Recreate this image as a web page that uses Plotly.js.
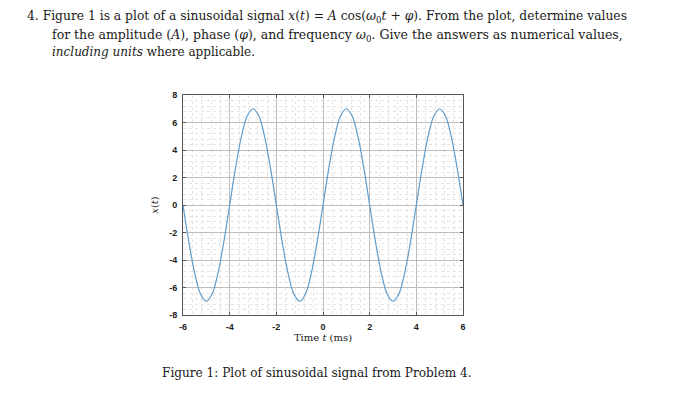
<!DOCTYPE html>
<html><head><meta charset="utf-8">
<script src="https://cdn.plot.ly/plotly-3.0.1.min.js"></script>
<style>html,body{margin:0;padding:0;background:#fff;}#plot{width:700px;height:395px;}</style>
</head><body><div id="plot"></div>
<script>
// Time samples (ms)
const timeMs = [-6,-5.75,-5.5,-5.25,-5,-4.75,-4.5,-4.25,-4,-3.75,-3.5,-3.25,-3,-2.75,-2.5,-2.25,
  -2,-1.75,-1.5,-1.25,-1,-0.75,-0.5,-0.25,0,0.25,0.5,0.75,1,1.25,1.5,1.75,
  2,2.25,2.5,2.75,3,3.25,3.5,3.75,4,4.25,4.5,4.75,5,5.25,5.5,5.75,6];
// Signal values x(t)
const signalX = [0,-2.68,-4.95,-6.47,-7,-6.47,-4.95,-2.68,0,2.68,4.95,6.47,7,6.47,4.95,2.68,
  0,-2.68,-4.95,-6.47,-7,-6.47,-4.95,-2.68,0,2.68,4.95,6.47,7,6.47,4.95,2.68,
  0,-2.68,-4.95,-6.47,-7,-6.47,-4.95,-2.68,0,2.68,4.95,6.47,7,6.47,4.95,2.68,0];
const xTicks = [-6,-4,-2,0,2,4,6];
const yTicks = [-8,-6,-4,-2,0,2,4,6,8];
const problemLines = [
  "4. Figure 1 is a plot of a sinusoidal signal <i>x</i>(<i>t</i>) = <i>A</i> cos(<i>ω</i><sub>0</sub><i>t</i> + <i>φ</i>). From the plot, determine values",
  "for the amplitude (<i>A</i>), phase (<i>φ</i>), and frequency <i>ω</i><sub>0</sub>. Give the answers as numerical values,",
  "<i>including units</i> where applicable."
];
const captionText = "Figure 1: Plot of sinusoidal signal from Problem 4.";

const L=183, R=463, T=95, B=315;
const px = x => (x-L)/(R-L);
const py = y => (B-y)/(B-T);
const serif = "DejaVu Serif, Liberation Serif, serif";

const axisCommon = {
  showline:true, linecolor:'#555', linewidth:1, mirror:'ticks',
  ticks:'inside', ticklen:3, tickcolor:'#555',
  showgrid:true, gridcolor:'#bdbdbd', gridwidth:1,
  zeroline:false,
  tickfont:{family:'Liberation Sans, Arial, sans-serif', size:9, color:'#222', weight:'bold'},
  minor:{showgrid:true, gridcolor:'#e4e4e4', griddash:'dot', gridwidth:1}
};

const layout = {
  width:700, height:395,
  margin:{l:L, r:700-R, t:T, b:395-B, pad:0},
  paper_bgcolor:'#fff', plot_bgcolor:'#fff',
  showlegend:false,
  xaxis: Object.assign({}, axisCommon, {
    range:[-6,6], tickvals:xTicks, ticktext:xTicks.map(String), ticklabelstandoff:3,
    minor:Object.assign({}, axisCommon.minor, {dtick:0.4, tick0:-6}),
    title:{text:'Time <i>t</i> (ms)', font:{family:serif, size:10, color:'#222'}, standoff:3}
  }),
  yaxis: Object.assign({}, axisCommon, {
    range:[-8,8], tickvals:yTicks, ticktext:yTicks.map(String), ticklabelstandoff:3,
    minor:Object.assign({}, axisCommon.minor, {dtick:0.4, tick0:-8}),
    title:{text:'<i>x</i>(<i>t</i>)', font:{family:serif, size:10, color:'#222'}, standoff:8}
  }),
  annotations: [
    {text:problemLines[0], x:px(25), y:py(17), xanchor:'left', font:{family:serif, size:12.3, color:'#1a1a1a'}},
    {text:problemLines[1], x:px(50), y:py(35), xanchor:'left', font:{family:serif, size:12.5, color:'#1a1a1a'}},
    {text:problemLines[2], x:px(50), y:py(52), xanchor:'left'},
    {text:captionText, x:px(160), y:py(373), xanchor:'left', font:{family:serif, size:12.1, color:'#1a1a1a'}}
  ].map(a => Object.assign({xref:'paper', yref:'paper', yanchor:'middle', showarrow:false,
      font:{family:serif, size:12, color:'#1a1a1a'}}, a))
};

Plotly.newPlot('plot', [{
  x: timeMs, y: signalX, type:'scatter', mode:'lines',
  line:{color:'#5e9ccc', width:1.2, shape:'spline'}
}], layout, {displayModeBar:false, staticPlot:true});
</script>
</body></html>
